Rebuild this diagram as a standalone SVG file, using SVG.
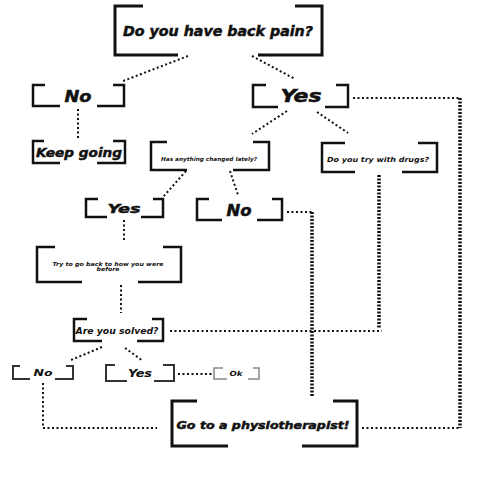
<svg xmlns="http://www.w3.org/2000/svg" width="480" height="480" viewBox="0 0 480 480">
<style>
.b{fill:none;stroke:#111;stroke-width:2.5}
.b3{fill:none;stroke:#111;stroke-width:3}
.bs{fill:none;stroke:#333;stroke-width:2}
.bo{fill:none;stroke:#888;stroke-width:1.5}
.t{font-family:"DejaVu Sans",sans-serif;font-weight:bold;font-style:italic;fill:#111;text-anchor:middle}
.k{stroke:#111;stroke-width:0.5}
.d{fill:none;stroke:#111;stroke-width:2;stroke-dasharray:2 2.5}
.dk{fill:none;stroke:#111;stroke-width:3.5;stroke-dasharray:2 1.5}
</style>
<rect width="480" height="480" fill="#fff"/>
<g id="connectors">
<path class="d" d="M188 56L123 81M252 56L295 79M78 109V138M287 111L252 134M317 112L348 133M186 171L163 197M230 171L238 195M124 220V240M121 285V313M102 347L71 360M125 348L143 361M178 374H212M287 212H312M170 331H382M43 383V428H157M362 428H460M353 98H460"/>
<path class="dk" d="M460 98V428M379 175V329M312 212V397"/>
</g>
<g id="n1"><path class="b3" d="M143 6H115V55H178M295 6H322V55H258"/><text class="t k" x="218" y="36" font-size="14" textLength="190" lengthAdjust="spacingAndGlyphs">Do you have back pain?</text></g>
<g id="n2"><path class="b" d="M45 85H33V106H60M113 85H124V106H97"/><text class="t k" x="78" y="102" font-size="16" textLength="27" lengthAdjust="spacingAndGlyphs">No</text></g>
<g id="n3"><path class="b" d="M266 85H253V107H278M336 85H348V107H325"/><text class="t k" x="301" y="102" font-size="17" textLength="41" lengthAdjust="spacingAndGlyphs">Yes</text></g>
<g id="n4"><path class="b" d="M44 141H33V163H60M113 141H125V163H97"/><text class="t k" x="79" y="157" font-size="13" textLength="86" lengthAdjust="spacingAndGlyphs">Keep going</text></g>
<g id="n5"><path class="b" d="M167 142H151V170H187M253 142H269V170H233"/><text class="t" x="209" y="161" font-size="5.5" textLength="96" lengthAdjust="spacingAndGlyphs">Has anything changed lately?</text></g>
<g id="n6"><path class="b" d="M345 143H322V172H355M418 143H437V172H402"/><text class="t" x="378" y="161.5" font-size="7" textLength="102" lengthAdjust="spacingAndGlyphs">Do you try with drugs?</text></g>
<g id="n7"><path class="b" d="M98 199H86V217H107M153 199H163V217H141"/><text class="t k" x="124" y="213" font-size="13" textLength="33" lengthAdjust="spacingAndGlyphs">Yes</text></g>
<g id="n8"><path class="b" d="M209 199H197V220H222M272 199H282V220H257"/><text class="t k" x="239" y="216" font-size="15" textLength="25" lengthAdjust="spacingAndGlyphs">No</text></g>
<g id="n9"><path class="b" d="M55 247H37V282H82M163 247H181V282H138"/><text class="t" x="108" y="266" font-size="5.5" textLength="111" lengthAdjust="spacingAndGlyphs">Try to go back to how you were</text><text class="t" x="108" y="271" font-size="5.5" textLength="23" lengthAdjust="spacingAndGlyphs">before</text></g>
<g id="n10"><path class="b" d="M87 319H74V341H102M152 319H163V341H137"/><text class="t" x="117" y="334" font-size="8" textLength="83" lengthAdjust="spacingAndGlyphs">Are you solved?</text></g>
<g id="n11"><path class="bs" d="M20 366H13V379H30M66 366H73V379H55"/><text class="t" x="43" y="376" font-size="9" textLength="19" lengthAdjust="spacingAndGlyphs">No</text></g>
<g id="n12"><path class="bs" d="M115 365H106V381H127M163 365H174V381H154"/><text class="t" x="140" y="376.5" font-size="10" textLength="24" lengthAdjust="spacingAndGlyphs">Yes</text></g>
<g id="n13"><path class="bo" d="M223 368H214V379H227M253 368H259V379H248"/><text class="t" x="236" y="376" font-size="7" textLength="13" lengthAdjust="spacingAndGlyphs">Ok</text></g>
<g id="n14"><path class="b3" d="M197 401H172V446H228M333 401H357V446H302"/><text class="t k" x="263" y="429" font-size="11" textLength="173" lengthAdjust="spacingAndGlyphs">Go to a physiotherapist!</text></g>
</svg>
